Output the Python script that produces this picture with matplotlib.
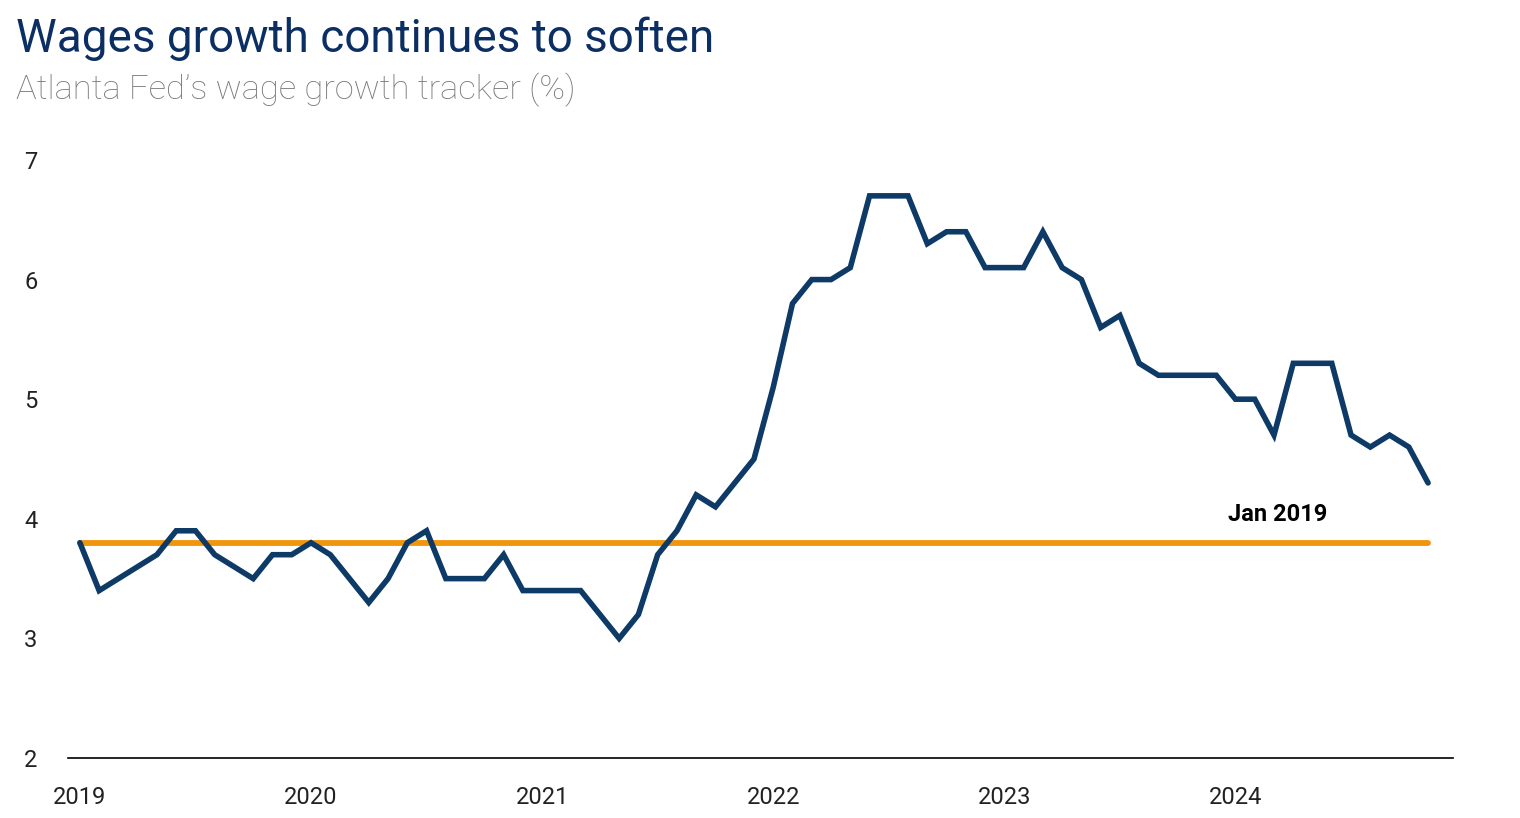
import numpy as np
import matplotlib
matplotlib.use('Agg')
from matplotlib import pyplot as plt

# monthly, Jan 2019 .. Nov 2024
wage_growth = [3.8, 3.4, 3.5, 3.6, 3.7, 3.9, 3.9, 3.7, 3.6, 3.5, 3.7, 3.7,
               3.8, 3.7, 3.5, 3.3, 3.5, 3.8, 3.9, 3.5, 3.5, 3.5, 3.7, 3.4,
               3.4, 3.4, 3.4, 3.2, 3.0, 3.2, 3.7, 3.9, 4.2, 4.1, 4.3, 4.5,
               5.1, 5.8, 6.0, 6.0, 6.1, 6.7, 6.7, 6.7, 6.3, 6.4, 6.4, 6.1,
               6.1, 6.1, 6.4, 6.1, 6.0, 5.6, 5.7, 5.3, 5.2, 5.2, 5.2, 5.2,
               5.0, 5.0, 4.7, 5.3, 5.3, 5.3, 4.7, 4.6, 4.7, 4.6, 4.3]
years = ['2019', '2020', '2021', '2022', '2023', '2024']
y_ticks = [2, 3, 4, 5, 6, 7]
baseline_label = 'Jan 2019'

navy = '#0d3a66'
orange = '#f0950c'

plt.rcParams['font.family'] = ['Roboto', 'DejaVu Sans']

months = np.arange(len(wage_growth))
baseline = np.full(len(wage_growth), wage_growth[0])

fig = plt.figure(figsize=(15.2, 8.18), dpi=100)
ax = fig.add_axes([0.0447, 0.0733, 0.9113, 0.756])

ax.plot(months, baseline, color=orange, lw=4.2, solid_capstyle='round', zorder=2)
ax.plot(months, wage_growth, color=navy, lw=4.0, solid_capstyle='round',
        solid_joinstyle='miter', zorder=3)
ax.text(62.2, baseline[0] + 0.14, baseline_label, fontsize=17,
        fontweight='bold', color='black', ha='center', va='bottom')

ax.set_xlim(-0.62, 71.3)
ax.set_ylim(2, 7.17)
ax.set_xticks(np.arange(len(years)) * 12)
ax.set_xticklabels(years)
ax.set_yticks(y_ticks)
for s in ['left', 'right', 'top']:
    ax.spines[s].set_visible(False)
ax.spines['bottom'].set_linewidth(1.2)
ax.tick_params(axis='both', length=0, labelsize=17, colors='#222222')
ax.tick_params(axis='x', pad=20)
ax.tick_params(axis='y', pad=22)

fig.text(0.0105, 0.937, 'Wages growth continues to soften', fontsize=33,
         fontweight='normal', color='#0c2f63', ha='left', va='baseline')
fig.text(0.0105, 0.878, 'Atlanta Fed\u2019s wage growth tracker (%)', fontsize=24.8,
         fontweight='light', color='#7a7a7a', ha='left', va='baseline')

fig.savefig('out.png', dpi=100)
